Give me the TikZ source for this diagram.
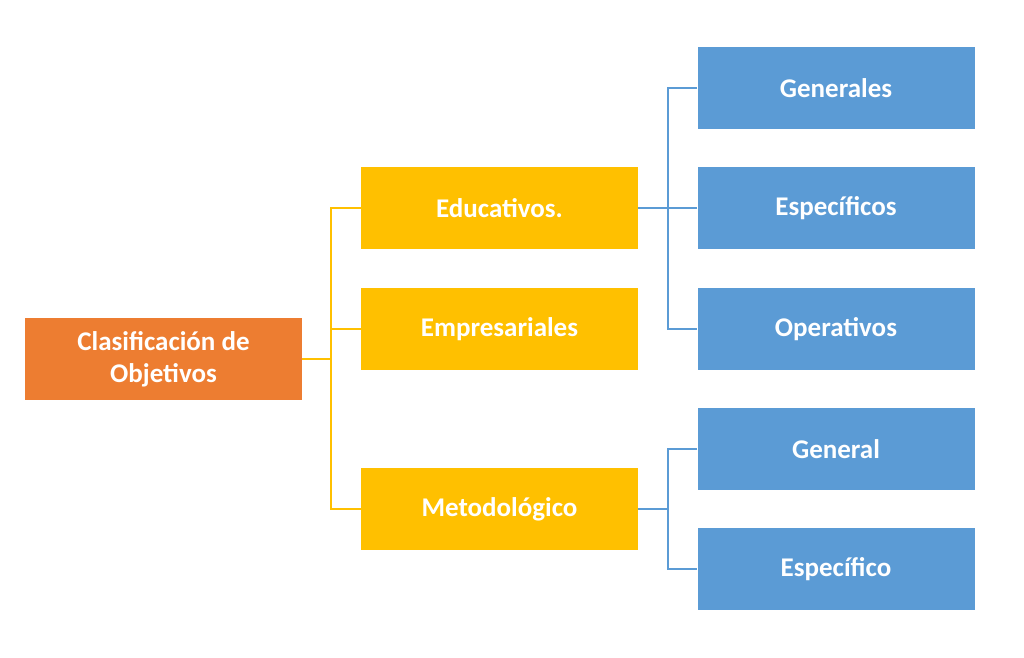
\documentclass[tikz,border=0pt]{standalone}
\usepackage{fontspec}
\setmainfont{Carlito}
\begin{document}
\begin{tikzpicture}[x=1pt,y=-1pt,
  box/.style={minimum width=277pt,minimum height=82pt,inner sep=0pt,text=white,font=\bfseries\fontsize{27}{32}\selectfont,align=center},
  org/.style={box,fill={rgb,255:red,237;green,125;blue,49}},
  yel/.style={box,fill={rgb,255:red,255;green,192;blue,0}},
  blu/.style={box,fill={rgb,255:red,91;green,155;blue,213}},
  yl/.style={draw={rgb,255:red,255;green,192;blue,0},line width=1.5pt},
  bl/.style={draw={rgb,255:red,91;green,155;blue,213},line width=1.5pt}]
\useasboundingbox (0,0) rectangle (1024,657);
\node[org] (root) at (163.5,359) {Clasificación de\\Objetivos};
\node[yel] (edu) at (499.5,208) {Educativos.};
\node[yel] (emp) at (499.5,329) {Empresariales};
\node[yel] (met) at (499.5,509) {Metodológico};
\node[blu] (gen) at (836,88) {Generales};
\node[blu] (esp) at (836,208) {Específicos};
\node[blu] (ope) at (836,329) {Operativos};
\node[blu] (g1) at (836,449) {General};
\node[blu] (e1) at (836,569) {Específico};
\draw[yl] (root.east) -- ++(29,0) coordinate (r1);
\draw[yl] (edu.west) -| (r1) |- (met.west);
\draw[yl] (emp.west) -- (emp.west -| r1);
\draw[bl] (edu.east) -- ++(30,0) coordinate (b1);
\draw[bl] (gen.west) -| (b1) |- (ope.west);
\draw[bl] (esp.west) -- (b1);
\draw[bl] (met.east) -- ++(30,0) coordinate (b2);
\draw[bl] (g1.west) -| (b2) |- (e1.west);
\end{tikzpicture}
\end{document}
